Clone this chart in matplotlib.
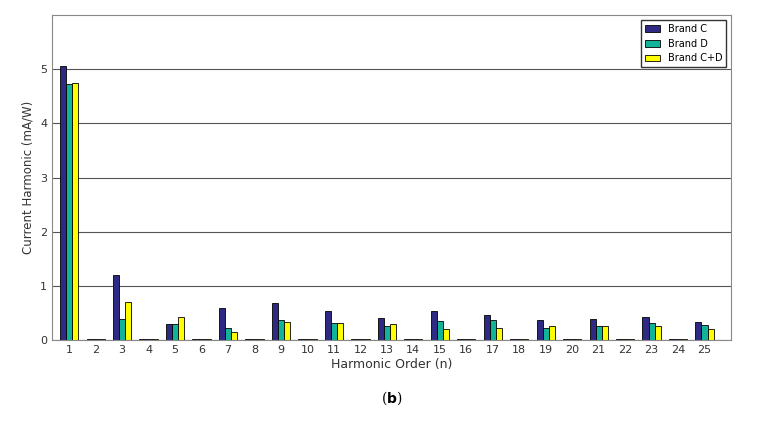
import matplotlib
matplotlib.use("Agg")
import matplotlib.pyplot as plt
import numpy as np

orders = list(range(1, 26))
brand_c = [5.05,0.01,1.20,0.01,0.30,0.01,0.60,0.01,0.69,0.01,0.53,0.01,0.40,0.01,0.54,0.01,0.46,0.01,0.37,0.01,0.39,0.01,0.42,0.01,0.34]
brand_d = [4.72,0.01,0.39,0.02,0.30,0.01,0.23,0.01,0.37,0.01,0.31,0.01,0.26,0.01,0.35,0.01,0.37,0.01,0.23,0.01,0.25,0.02,0.31,0.02,0.28]
brand_cd = [4.75,0.01,0.71,0.01,0.42,0.01,0.14,0.01,0.33,0.01,0.31,0.01,0.29,0.01,0.20,0.01,0.23,0.01,0.25,0.01,0.26,0.01,0.26,0.02,0.20]

fig = plt.figure(figsize=(7.68, 4.23), dpi=100)
ax = fig.add_axes([52/768, 83/423, 679/768, 325/423])
x = np.array(orders)
w = 0.23
kw = dict(edgecolor="black", linewidth=0.6)
ax.bar(x - w, brand_c, w, color="#2e2a84", label="Brand C", **kw)
ax.bar(x, brand_d, w, color="#13b39a", label="Brand D", **kw)
ax.bar(x + w, brand_cd, w, color="#ffff00", label="Brand C+D", **kw)
ax.set_xlim(0.35, 26.0)
ax.set_ylim(0, 6)
ax.set_yticks([0, 1, 2, 3, 4, 5])
ax.set_xticks(orders)
ax.yaxis.grid(True, color="#555555", linewidth=0.8)
ax.set_axisbelow(True)
ax.tick_params(labelsize=8, length=0, colors="#333333")
for s in ax.spines.values():
    s.set_color("#888888")
ax.set_xlabel("Harmonic Order (n)", fontsize=9, color="#333333", labelpad=2)
ax.set_ylabel("Current Harmonic (mA/W)", fontsize=8.5, color="#333333")
ax.legend(loc="upper right", fontsize=7, fancybox=False, edgecolor="black", handlelength=1.5)
fig.text(0.5 * (52 + 731) / 768, 20/423, r"($\mathbf{b}$)", fontsize=10, ha="center", family="DejaVu Serif")
fig.savefig("out.png", dpi=100)
